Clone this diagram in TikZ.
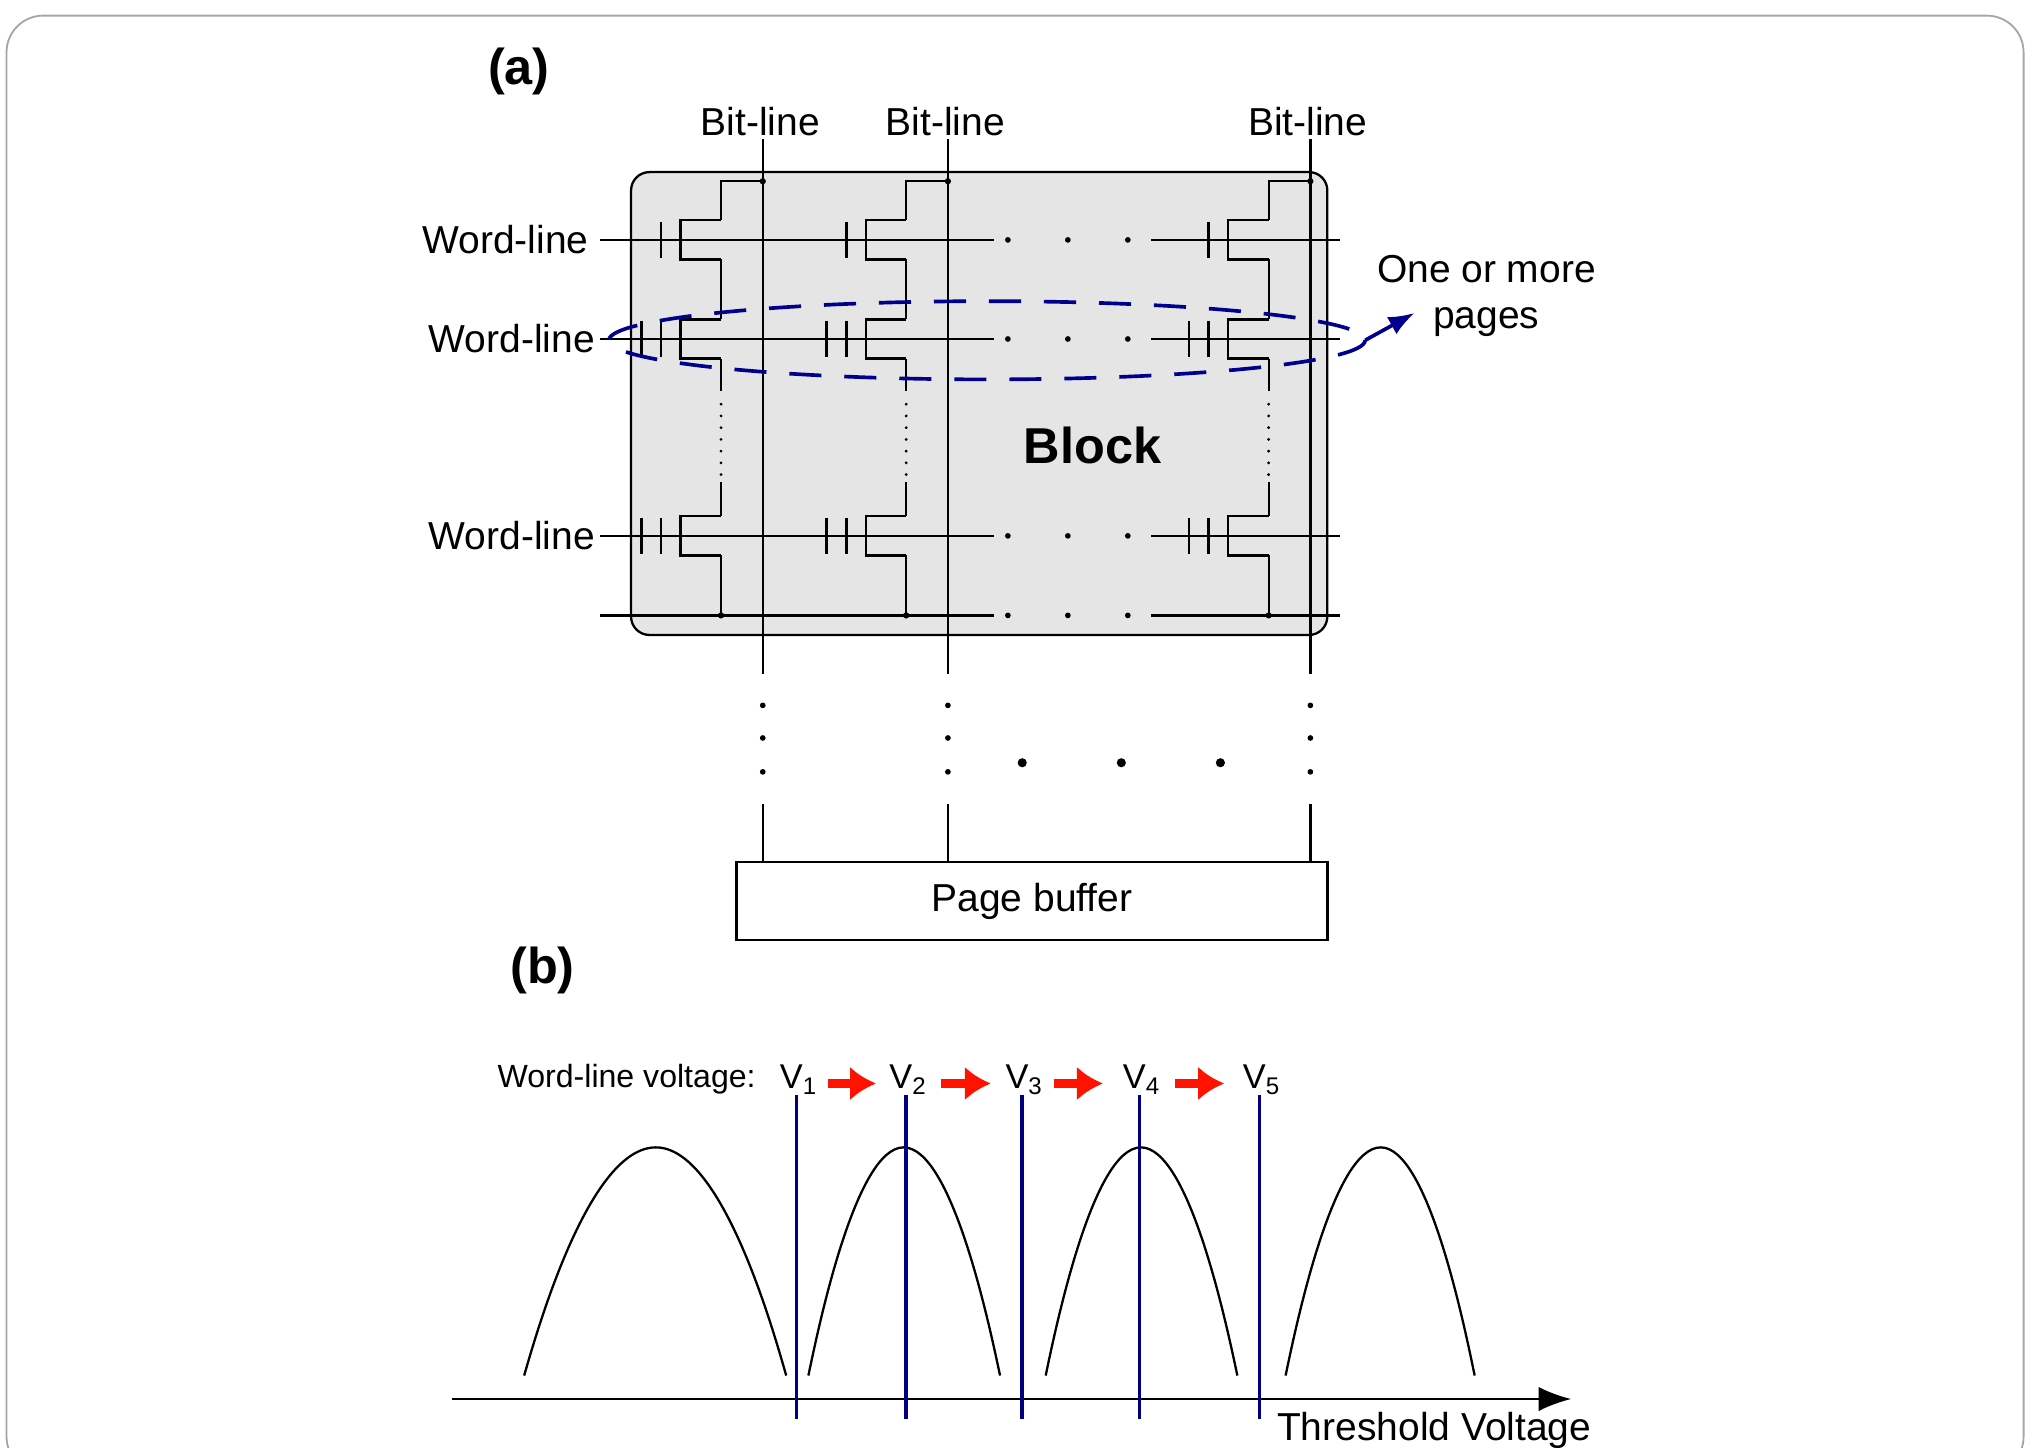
\documentclass[tikz,border=0pt]{standalone}
\usepackage{fontspec}
\setmainfont{Liberation Sans}
\usetikzlibrary{arrows.meta}

\tikzset{
  wire/.style={line width=0.5pt},
  gateplate/.style={line width=0.6pt},
  lbl/.style={font=\fontsize{8.5pt}{10pt}\selectfont},
  vline/.style={blue!50!black,line width=0.8pt},
  vstep/.style={red!85!orange,line width=1.8pt,-{Latex[length=2mm,width=2.6mm]}}
}

\begin{document}
\begin{tikzpicture}[x=0.01cm,y=-0.01cm]
    % Frame and bounding box
    \useasboundingbox (0,0) rectangle (1560,1110);
    \draw[gray!70,rounded corners=8pt] (5,12) rectangle (1552,1130);

    % Part (a): block
    \node[font=\bfseries\fontsize{11pt}{12pt}\selectfont] (la) at (398,55) {(a)};
    \draw[fill=gray!20,rounded corners=4pt,wire] (484,132) rectangle (1018,487);
    \node[font=\bfseries\fontsize{11pt}{12pt}\selectfont] (blk) at (838,342) {Block};

    % Word-lines and the source line
    \foreach \y/\nm in {184/wa,260/wb,411/wc,472/src}{
        \draw[wire] (460,\y) -- (762,\y);
        \draw[wire] (883,\y) -- (1028,\y);
        \foreach \x in {773,819,865}
            \fill (\x,\y) circle (2.2);
    }
    \node[lbl,anchor=east,inner sep=0pt] (wl1) at (452,184) {Word-line};
    \node[lbl,anchor=east,inner sep=0pt] (wl2) at (457,260) {Word-line};
    \node[lbl,anchor=east,inner sep=0pt] (wl3) at (457,411) {Word-line};

    % Strings, one per bit-line
    \foreach \b/\nm in {585/ba,727/bb,1005/bc}{
        \node[lbl] (\nm) at (\b-2,93) {Bit-line};
        \draw[wire] (\b,107) -- (\b,517);
        \draw[wire] (\b,617) -- (\b,661);
        \foreach \y in {541,566,592}
            \fill (\b,\y) circle (2.2);
        % cells
        \foreach \y in {184,260,411}{
            \draw[wire] (\b-32,\y-15) -- (\b-63,\y-15) -- (\b-63,\y+15) -- (\b-32,\y+15);
            \draw[gateplate] (\b-78,\y-14) -- (\b-78,\y+14);
        }
        \foreach \y in {260,411}
            \draw[gateplate] (\b-93,\y-14) -- (\b-93,\y+14);
        \draw[wire] (\b,139) -- (\b-32,139) -- (\b-32,169);
        \draw[wire] (\b-32,199) -- (\b-32,245);
        \draw[wire] (\b-32,275) -- (\b-32,300);
        \foreach \y in {310,319,...,365}
            \fill (\b-32,\y) circle (1.2);
        \draw[wire] (\b-32,370) -- (\b-32,396);
        \draw[wire] (\b-32,426) -- (\b-32,472);
        \fill (\b,139) circle (2.4);
        \fill (\b-32,472) circle (2.4);
    }
    \foreach \x in {784,860,936}
        \fill (\x,585) circle (3.5);

    % Page selection
    \draw[blue!55!black,dashed,dash pattern=on 7pt off 5pt,line width=0.8pt]
        (757,261) ellipse (290 and 30);
    \coordinate (pstart) at (1047,261);
    \coordinate (ptip) at (1085,240);
    \draw[blue!55!black,line width=0.8pt,-{Latex[length=2mm]}] (pstart) -- (ptip);
    \node[lbl,align=center] (pg) at (1140,227) {One or more\\pages};

    % Page buffer
    \node[draw,wire,minimum width=4.53cm,minimum height=0.6cm,lbl,inner sep=0pt]
        (buf) at (791.5,691) {Page buffer};

    % Part (b): threshold voltage distributions
    \node[font=\bfseries\fontsize{11pt}{12pt}\selectfont] (lb) at (416,744) {(b)};
    \coordinate (ax0) at (347,1073);
    \coordinate (ax1) at (1205,1073);
    \draw[wire,-{Latex[length=2.5mm]}] (ax0) -- (ax1);
    \node[lbl] (tv) at (1100,1097) {Threshold Voltage};

    \draw[wire] (402,1055) parabola bend (503,880) (603,1055);
    \draw[wire] (620,1055) parabola bend (693,880) (767,1055);
    \draw[wire] (802,1055) parabola bend (875,880) (949,1055);
    \draw[wire] (986,1055) parabola bend (1059,880) (1131,1055);

    \node[font=\fontsize{7pt}{8pt}\selectfont,anchor=east] (wlv) at (592,828) {Word-line voltage:};
    \foreach \x/\i in {611/1,695/2,784/3,874/4,966/5}{
        \draw[vline] (\x,840) -- (\x,1088);
        \node[font=\fontsize{7.5pt}{8pt}\selectfont,inner sep=1pt] (v\i) at (\x+2,828) {V\textsubscript{\i}};
    }
    \foreach \a/\c/\xa/\xb in {1/2/635/672,2/3/722/760,3/4/808/846,4/5/901/939}{
        \coordinate (s\a) at (\xa,831);
        \coordinate (e\a) at (\xb,831);
        \draw[vstep] (s\a) -- (e\a);
    }
\end{tikzpicture}
\end{document}
